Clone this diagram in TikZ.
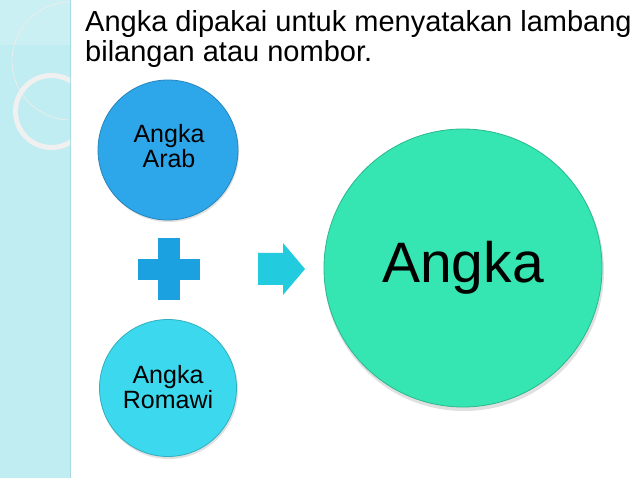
\documentclass[tikz,border=0pt]{standalone}
\usepackage{fontspec}
\setmainfont{Liberation Sans}
\definecolor{stripc}{HTML}{BFEDF1}
\definecolor{stripedge}{HTML}{A9DCE2}
\definecolor{arabc}{HTML}{2EA6EA}
\definecolor{romc}{HTML}{3CD9EE}
\definecolor{plusc}{HTML}{1BA0E0}
\definecolor{arrowc}{HTML}{22CBDE}
\definecolor{bigc}{HTML}{35E6B2}
\tikzset{
  bubble/.style={circle, inner sep=0pt, font=\fontsize{25}{25}\selectfont, align=center, text=black},
  rimshadow/.style={fill=black!12, draw=none},
  titletext/.style={anchor=base west, inner sep=0pt, font=\fontsize{29}{30}\selectfont}
}
\begin{document}
\begin{tikzpicture}[x=1pt,y=-1pt]
\useasboundingbox (0,0) rectangle (638,478);
\fill[white] (0,0) rectangle (638,478);
% left strip
\fill[stripc] (0,0) rectangle (70,478);
\fill[white, opacity=0.18] (0,0) rectangle (70,45);
\draw[stripedge, line width=1pt] (70,0) -- (70,478);
\begin{scope}
  \clip (0,0) rectangle (70,478);
  \draw[white!85!gray, line width=0.8pt] (71,61) circle[radius=59];
  \draw[white!88!gray, line width=5pt] (51.5,111.5) circle[radius=36];
\end{scope}
% title
\node[titletext] (t1) at (85,32) {Angka dipakai untuk menyatakan lambang};
\node[titletext] (t2) at (85,62) {bilangan atau nombor.};
% shadows
\fill[rimshadow] (169,152) circle[radius=70];
\fill[rimshadow] (169,390) circle[radius=69];
\fill[rimshadow] (464,271) circle[radius=140];
% circles
\node[bubble, minimum size=140pt, fill=arabc, draw=arabc!80!black, line width=0.8pt] (arab) at (168,150) {};
\node[bubble] (arabtxt) at (169,146) {Angka\\Arab};
\node[bubble, minimum size=137pt, fill=romc, draw=romc!80!black, line width=0.8pt] (rom) at (168,388) {};
\node[bubble] (romtxt) at (168,387) {Angka\\Romawi};
\node[circle, inner sep=0pt, minimum size=278pt, fill=bigc, draw=bigc!80!black, line width=0.8pt, font=\fontsize{57}{60}\selectfont] (big) at (463,268) {Angka};
% plus
\fill[plusc] (158,238) rectangle (180,300);
\fill[plusc] (138,259) rectangle (200,280);
\coordinate (plus) at (169,269);
% arrow
\fill[arrowc] (258,253) -- (283,253) -- (283,243) -- (305,269) -- (283,295) -- (283,285) -- (258,285) -- cycle;
\coordinate (arr) at (281,269);
\end{tikzpicture}
\end{document}
